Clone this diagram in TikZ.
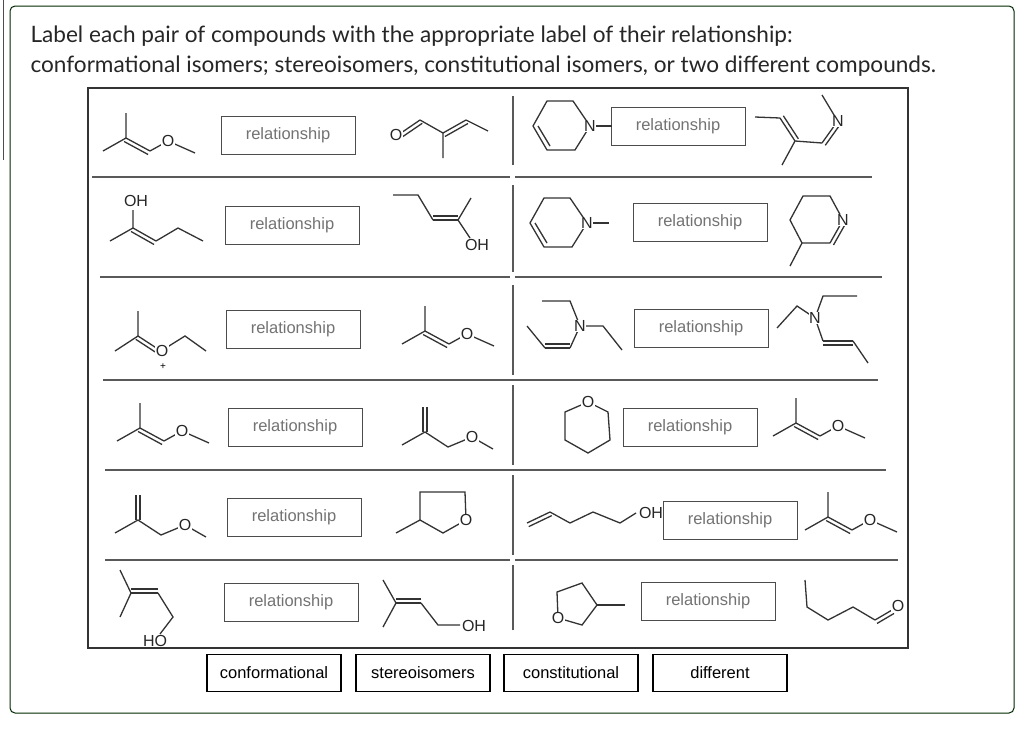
\documentclass[tikz,border=0pt]{standalone}
\usepackage{fontspec}
\setmainfont{Lato}
\newfontfamily\arial{Liberation Sans}
\usetikzlibrary{calc}
\tikzset{
 bd/.style={line width=1.3pt,draw=black!80},
 atm/.style={font=\arial\fontsize{16}{16}\selectfont,fill=white,inner sep=0.3pt,text=black!85},
 rel/.style={draw=black!70,line width=1pt,minimum width=134pt,minimum height=38pt,font=\arial\fontsize{16.5}{17}\selectfont,text=black!55,inner sep=0pt},
 ans/.style={draw=black,line width=1.2pt,minimum width=134pt,minimum height=37pt,font=\arial\fontsize{16.5}{17}\selectfont,inner sep=0pt},
 rule/.style={line width=1.6pt,draw=black!65}
}
\newcommand\dbl[2]{\draw[bd] (#1)--(#2); \draw[bd] ($(#1)!4pt!-90:(#2)$)--($(#2)!4pt!90:(#1)$);}
\newcommand\mve[1]{\begin{scope}[shift={(#1)}]
 \draw[bd] (0,-25)--(0,0)--(-23,13); \dbl{0,0}{24,13}
 \draw[bd] (24,13)--(42,3)--(69,15); \node[atm] at (42,3) {O};\end{scope}}
\newcommand\mal[1]{\begin{scope}[shift={(#1)}]
 \draw[bd] (-23,13)--(0,0)--(23,15)--(47,5)--(68,17);
 \draw[bd] (-2,0)--(-2,-25); \draw[bd] (2,0)--(2,-25); \node[atm] at (47,5) {O};\end{scope}}
\newcommand\thp[1]{\begin{scope}[shift={(#1)}]
 \draw[bd] (533,126)--(547,101)--(573,101)--(590,126)--(575,150)--(547,150)--cycle;
 \draw[bd] (538,126)--(550,146);
 \draw[bd] (590,126)--(612,126); \node[atm] at (590,126) {N};\end{scope}}
\begin{document}
\begin{tikzpicture}[x=1pt,y=-1pt]
\useasboundingbox (0,0) rectangle (1024,734);
\fill[white] (0,0) rectangle (1024,734);
\draw[draw=black!60!green!40!black,line width=1pt,rounded corners=5pt] (10,6) rectangle (1014,713);
\draw[line width=1pt,black!70] (3,0)--(3,160);
\node[anchor=west,font=\fontsize{22.6}{26}\selectfont,text=black!85] (h1) at (27,36) {Label each pair of compounds with the appropriate label of their relationship:};
\node[anchor=west,font=\fontsize{22.6}{26}\selectfont,text=black!85] (h2) at (27,66) {conformational isomers; stereoisomers, constitutional isomers, or two different compounds.};
\draw[line width=1.4pt,black!80] (88,88) rectangle (908,648);
\foreach \a/\b in {96/165,185/272,285/375,385/465,475/555,565/630} \draw[rule] (513,\a)--(513,\b);
\draw[rule] (92,177)--(510,177); \draw[rule] (515,177)--(872,177);
\draw[rule] (100,277)--(510,277); \draw[rule] (515,277)--(882,277);
\draw[rule] (103,380)--(510,380); \draw[rule] (510,380)--(878,380);
\draw[rule] (105,470)--(510,470); \draw[rule] (510,470)--(886,470);
\draw[rule] (105,560)--(510,560); \draw[rule] (515,560)--(898,560);
\foreach \n/\x/\y in {r1/288/135,r2/292/225,r3/293/329,r4/295/427,r5/294/517,r6/291/602,s1/678/126,s2/700/222,s3/701/328,s4/690/427,s5/730/520,s6/708/601}
 \node[rel] (\n) at (\x,\y) {relationship};
\node[ans] (a1) at (274,673) {conformational};
\node[ans] (a2) at (423,673) {stereoisomers};
\node[ans] (a3) at (571,673) {constitutional};
\node[ans] (a4) at (720,673) {different};
\mve{126,138} \mve{425,331} \mve{140,428} \mve{796,423} \mve{828,517}
\mal{425,432} \mal{138,520}
\draw[bd] (420,120)--(443,133)--(443,158); \dbl{443,133}{466,120} \draw[bd] (466,120)--(488,131);
\dbl{398,135}{420,120} \node[atm] at (396,135) {O};
\draw[bd] (133,210)--(133,228)--(110,241); \dbl{133,228}{156,241} \draw[bd] (156,241)--(178,228)--(203,241);
\node[atm] at (136,201) {OH};
\draw[bd] (393,195)--(418,195)--(433,220); \dbl{458,220}{433,220} \draw[bd] (458,220)--(471,198); \draw[bd] (458,220)--(470,238);
\node[atm] at (477,245) {OH};
\draw[bd] (138,311)--(138,336)--(115,351); \dbl{138,336}{161,351} \draw[bd] (161,351)--(185,336)--(206,351);
\node[atm] at (162,351) {O}; \node[font=\arial\fontsize{10}{10}\selectfont] at (163,367) {+};
\draw[bd] (396,533)--(420,520)--(420,492)--(465,492)--(466,520)--(443,533)--(420,520);
\node[atm] at (466,520) {O};
\draw[bd] (120,570)--(131,593)--(120,617); \dbl{158,593}{131,593} \draw[bd] (158,593)--(173,617)--(160,634);
\node[atm] at (155,641) {HO};
\draw[bd] (383,580)--(396,603)--(383,627); \dbl{421,603}{396,603} \draw[bd] (421,603)--(438,625)--(460,625);
\node[atm] at (474,626) {OH};
\thp{0,0} \thp{-3,97}
\draw[bd] (755,117)--(780,118); \dbl{795,141}{780,118} \draw[bd] (795,141)--(782,165); \draw[bd] (795,141)--(822,143);
\dbl{822,143}{837,122} \draw[bd] (837,120)--(822,95); \node[atm] at (838,121) {N};
\draw[bd] (843,220)--(830,196)--(803,196)--(790,220)--(802,243)--(830,243); \dbl{830,243}{843,220}
\draw[bd] (802,243)--(790,266); \node[atm] at (843,220) {N};
\draw[bd] (542,301)--(570,301)--(580,326)--(603,326)--(622,350);
\draw[bd] (580,326)--(570,348); \dbl{570,348}{545,348} \draw[bd] (545,348)--(527,326);
\node[atm] at (580,326) {N};
\draw[bd] (777,328)--(797,306)--(815,318)--(823,296)--(857,296);
\draw[bd] (815,318)--(823,341); \dbl{823,341}{853,341} \draw[bd] (853,341)--(868,363);
\node[atm] at (815,318) {N};
\draw[bd] (588,402)--(608,412)--(610,440)--(588,453)--(565,440)--(565,412)--cycle;
\node[atm] at (588,402) {O};
\dbl{527,523}{550,512} \draw[bd] (550,512)--(570,523)--(593,512)--(620,523)--(636,513);
\node[atm] at (651,513) {OH};
\draw[bd] (558,618)--(557,592)--(582,583)--(597,605)--(582,625)--cycle; \draw[bd] (597,605)--(625,605);
\node[atm] at (558,618) {O};
\draw[bd] (805,580)--(807,607)--(828,620)--(853,607)--(875,620); \dbl{875,620}{892,610}
\node[atm] at (898,606) {O};
\end{tikzpicture}
\end{document}
